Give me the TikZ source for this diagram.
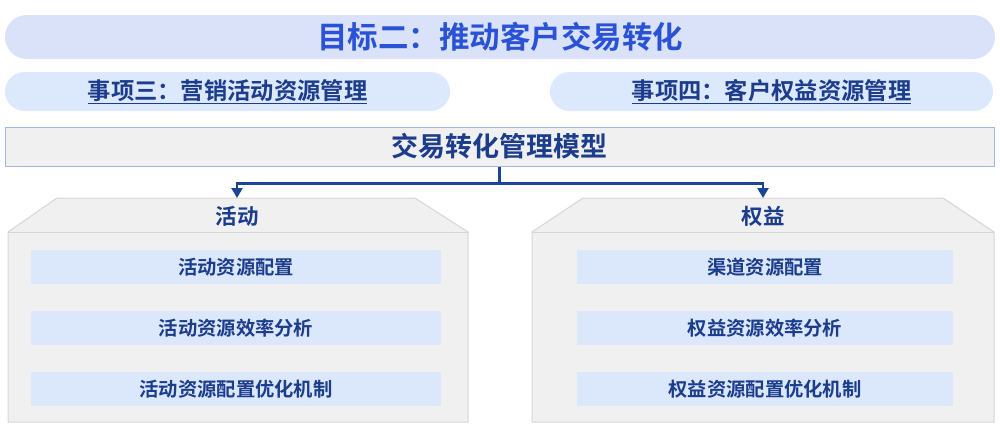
\documentclass[tikz,border=0pt]{standalone}
\usepackage{fontspec}
\setmainfont{Noto Sans CJK SC}[BoldFont={Noto Sans CJK SC Bold}]
\usetikzlibrary{arrows.meta}
\definecolor{titlebg}{HTML}{D9E2F8}
\definecolor{titlefg}{HTML}{2A52D6}
\definecolor{subbg}{HTML}{DCE8FB}
\definecolor{darkfg}{HTML}{1C3C8C}
\definecolor{greybg}{HTML}{F0F0F0}
\definecolor{modelborder}{HTML}{A3B8E2}
\definecolor{houseborder}{HTML}{D6D6D6}
\definecolor{barbg}{HTML}{DBE7FB}
\definecolor{arrowc}{HTML}{1A4597}
\begin{document}
\begin{tikzpicture}[x=1pt,y=-1pt,
  titlebox/.style={rectangle, rounded corners=22pt, fill=titlebg, minimum width=990pt, minimum height=44pt, inner sep=0pt, text=titlefg, font=\fontsize{30.5}{34}\selectfont\bfseries},
  subbox/.style={rectangle, rounded corners=19.5pt, fill=subbg, minimum height=39pt, inner sep=0pt, text=darkfg, font=\fontsize{23.3}{27}\selectfont\bfseries},
  modelbox/.style={rectangle, fill=greybg, draw=modelborder, line width=1pt, minimum width=989pt, minimum height=39pt, inner sep=0pt, text=darkfg, font=\fontsize{27}{31}\selectfont\bfseries},
  house/.style={fill=greybg, draw=houseborder, line width=1pt},
  houselabel/.style={text=darkfg, inner sep=0pt, font=\fontsize{21.5}{25}\selectfont\bfseries},
  bar/.style={rectangle, fill=barbg, minimum height=34pt, inner sep=0pt, text=darkfg, font=\fontsize{19.3}{23}\selectfont\bfseries},
  conn/.style={draw=arrowc, line width=2.4pt, -{Triangle[width=11pt,length=10pt]}}
]
\useasboundingbox (0,0) rectangle (1000,439);

\node[titlebox] (title) at (500,37) {目标二：推动客户交易转化};
\node[subbox, minimum width=445pt] (subL) at (227.5,91.5) {\underline{事项三：营销活动资源管理}};
\node[subbox, minimum width=443pt] (subR) at (771.5,91.5) {\underline{事项四：客户权益资源管理}};
\node[modelbox] (model) at (499.5,146.5) {交易转化管理模型};

% left house
\draw[house] (8,232) -- (57,198) -- (415,198) -- (468,232) -- (468,422) -- (8,422) -- cycle;
\draw[houseborder, line width=1pt] (8,232) -- (468,232);
% right house
\draw[house] (532,232) -- (583,198) -- (943,198) -- (994,232) -- (994,422) -- (532,422) -- cycle;
\draw[houseborder, line width=1pt] (532,232) -- (994,232);

\coordinate (topL) at (237,198);
\coordinate (topR) at (763,198);
\node[houselabel] (labL) at (237,216) {活动};
\node[houselabel] (labR) at (763,216) {权益};

\node[bar, minimum width=410pt] (l1) at (236,267) {活动资源配置};
\node[bar, minimum width=410pt] (l2) at (236,328) {活动资源效率分析};
\node[bar, minimum width=410pt] (l3) at (236,389) {活动资源配置优化机制};

\node[bar, minimum width=376pt] (r1) at (765,267) {渠道资源配置};
\node[bar, minimum width=376pt] (r2) at (765,328) {权益资源效率分析};
\node[bar, minimum width=376pt] (r3) at (765,389) {权益资源配置优化机制};

\draw[conn] (model.south) -- ++(0,17) -| (topL);
\draw[conn] (model.south) -- ++(0,17) -| (topR);
\end{tikzpicture}
\end{document}
